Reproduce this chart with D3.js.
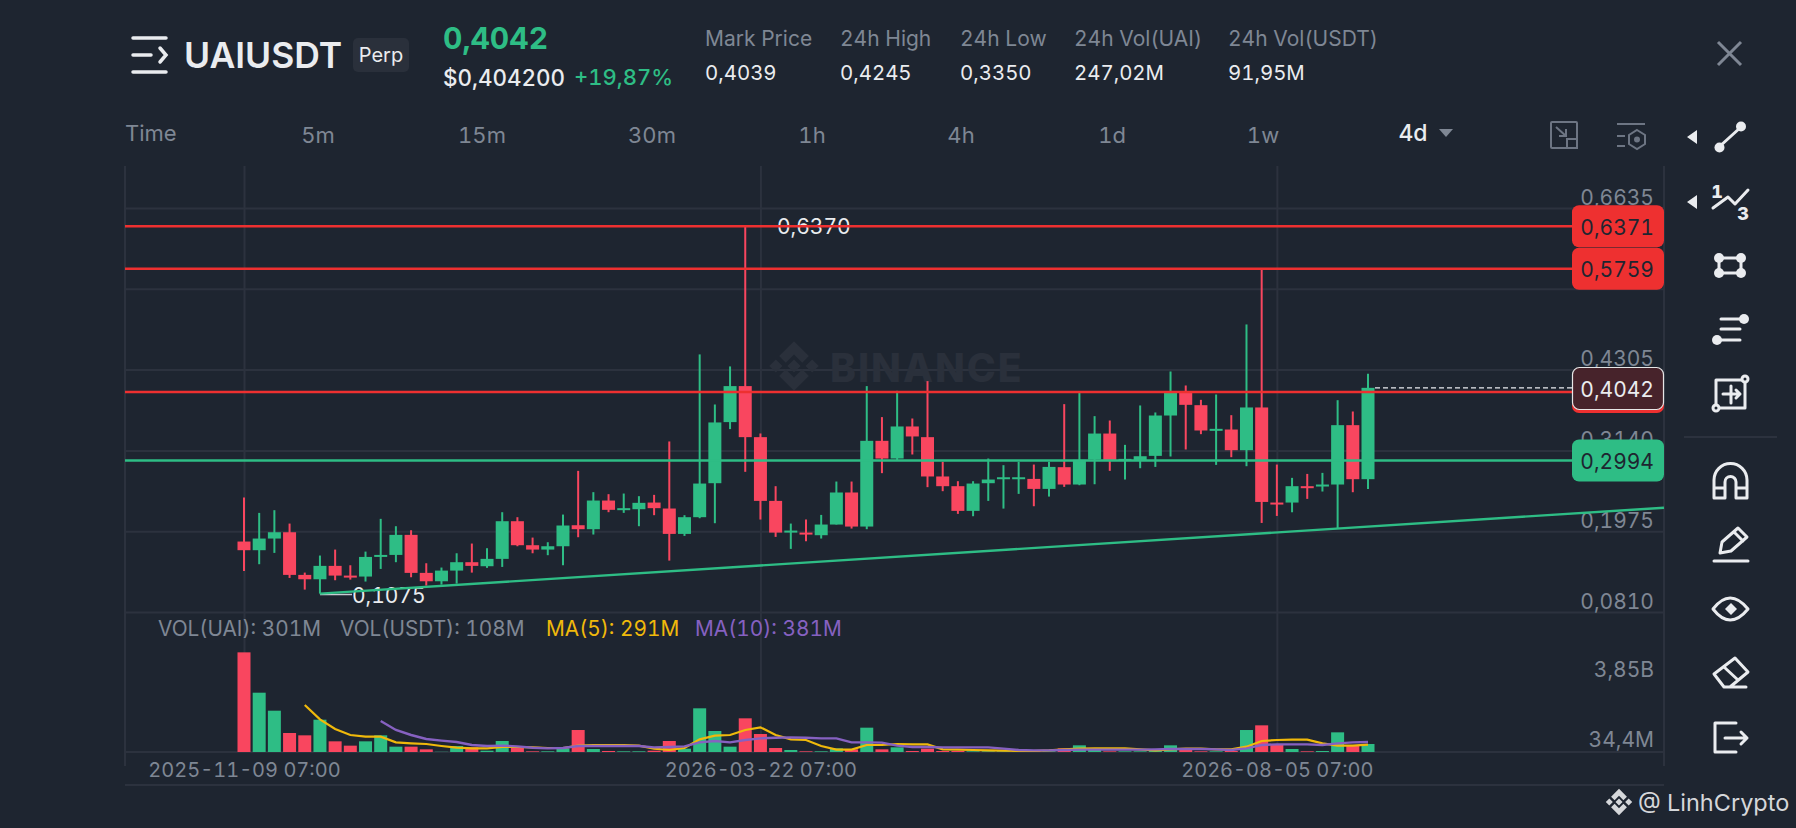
<!DOCTYPE html>
<html>
  <head>
    <meta charset="utf-8">
    <title>UAIUSDT Perp</title>
    <script src="https://d3js.org/d3.v7.min.js"></script>
    <style>
      html, body { margin: 0; padding: 0; background: #1e2530; overflow: hidden; }
      text { font-family: Inter, Roboto, "Noto Sans", sans-serif; font-variant-numeric: tabular-nums; }
      .axis path.domain { display: none; }
    </style>
  </head>

  <body>
    <script>

    // candles, one value per 4d bar
    var opens = [.1826,.1701,.1869,.1960,.1345,.1282,.1475,.1335,.1321,.1609,
                 .1633,.1922,.1374,.1253,.1407,.1528,.1470,.1576,.2119,.1773,
                 .1710,.1758,.2061,.2004,.2417,.2283,.2292,.2388,.2302,.1936,
                 .2177,.2667,.3548,.4067,.3331,.2412,.1955,.1955,.1917,.2071,
                 .2533,.2042,.3278,.3023,.3485,.3331,.2764,.2624,.2268,.2667,
                 .2725,.2729,.2729,.2585,.2898,.2648,.3008,.3383,.2989,.2989,
                 .3061,.3643,.3970,.3792,.3427,.3441,.3143,.3759,.2388,.2388,
                 .2624,.2619,.2648,.3504,.2725];
    var closes = [.1701,.1869,.1960,.1345,.1282,.1475,.1335,.1306,.1604,.1633,
                  .1922,.1374,.1253,.1407,.1528,.1475,.1576,.2119,.1773,.1710,
                  .1758,.2057,.2004,.2417,.2283,.2307,.2384,.2307,.1936,.2177,
                  .2662,.3543,.4067,.3331,.2412,.1955,.1984,.1927,.2071,.2533,
                  .2042,.3278,.3023,.3485,.3341,.2764,.2624,.2268,.2662,.2720,
                  .2753,.2753,.2585,.2902,.2648,.3004,.3383,.2999,.3018,.3056,
                  .3643,.3970,.3797,.3427,.3451,.3143,.3759,.2397,.2364,.2624,
                  .2595,.2648,.3504,.2725,.4042];
    var highs = [.2461,.2239,.2278,.2085,.1378,.1624,.1710,.1484,.1681,.2153,
                 .2047,.1989,.1513,.1451,.1657,.1797,.1730,.2249,.2177,.1883,
                 .1816,.2215,.2845,.2538,.2509,.2518,.2480,.2499,.3269,.2206,
                 .4524,.3802,.4351,.6370,.3384,.2624,.2085,.2143,.2210,.2691,
                 .2691,.4067,.3620,.3999,.3600,.4139,.2975,.2696,.2696,.3023,
                 .2927,.2975,.2936,.2975,.3807,.3970,.3634,.3571,.3220,.3788,
                 .3687,.4278,.4076,.3869,.3946,.3648,.4956,.5759,.2936,.2744,
                 .2801,.2816,.3864,.3701,.4245];
    var lows = [.1402,.1499,.1662,.1301,.1133,.1075,.1268,.1277,.1249,.1431,
                .1528,.1311,.1191,.1205,.1220,.1378,.1446,.1460,.1758,.1657,
                .1629,.1484,.1888,.1927,.2249,.2239,.2047,.2206,.1551,.1907,
                .2162,.2090,.3447,.2831,.2143,.1893,.1720,.1830,.1869,.2071,
                .2013,.2004,.2812,.2999,.3081,.2610,.2552,.2225,.2191,.2412,
                .2301,.2513,.2335,.2474,.2614,.2638,.2652,.2845,.2720,.2883,
                .2902,.3052,.3153,.3374,.2931,.3042,.2912,.2094,.2195,.2248,
                .2441,.2547,.2013,.2537,.2585];

    // volume in millions
    var volumes = [5466,3267,2286,1070,943,1795,616,380,616,943,
                   325,325,180,45,361,290,107,634,252,70,
                   70,234,1233,198,89,70,70,107,634,216,
                   2416,1179,325,1870,1015,252,143,70,70,234,
                   180,1360,180,290,89,216,89,89,70,70,
                   70,70,89,70,234,398,143,70,70,70,
                   89,398,180,70,70,89,1233,1488,416,198,
                   70,89,1106,416,470];
    var ma5 = [null,null,null,null,2596,1815,1288,961,870,870,
               561,507,470,361,270,234,234,307,307,289,
               252,252,380,416,416,416,380,216,143,252,
               724,925,961,1233,1380,961,725,688,361,162,
               162,416,416,470,452,452,180,162,143,125,
               107,89,89,125,180,216,234,234,234,180,
               125,180,216,216,180,180,325,634,688,706,
               706,507,380,380,434];
    var ma10 = [null,null,null,null,null,null,null,null,null,1724,
                1233,961,743,652,579,416,361,380,343,270,
                234,252,361,361,361,361,361,289,307,343,
                561,634,561,688,779,815,834,815,779,779,
                561,561,543,380,307,307,289,289,289,289,
                216,143,125,125,143,162,162,162,162,162,
                180,198,198,198,180,143,234,416,452,452,
                452,416,507,561,579];

    var priceTicks = [0.6635, 0.5470, 0.4305, 0.3140, 0.1975, 0.0810];
    var priceTickLabels = [0.6635, 0.4305, 0.3140, 0.1975, 0.0810];
    var volTicks = [3850, 34.4];
    var volTickLabels = ["3,85B", "34,4M"];
    var dateTicks = [0, 34, 68];
    var dateLabels = ["2025-11-09 07:00", "2026-03-22 07:00", "2026-08-05 07:00"];

    var redLevels = [0.6371, 0.5759, 0.3983];
    var greenLevels = [0.2994];
    var lastPrice = 0.4042;
    var trendIdx = [5, 72];
    var trendPrice = [0.1075, 0.2013];

    var stats = ["Mark Price", "24h High", "24h Low", "24h Vol(UAI)", "24h Vol(USDT)"];
    var statValues = ["0,4039", "0,4245", "0,3350", "247,02M", "91,95M"];
    var intervals = ["5m", "15m", "30m", "1h", "4h", "1d", "1w"];

    var bg = "#1e2530", grid = "#2c323e", green = "#2ebd85", red = "#f9465f",
        alarm = "#ee3030", gray = "#7f8794", white = "#eaecef";
    var width = 1796, height = 828;
    var left = 125, right = 1664;

    var x = d3.scaleLinear().domain([0, 74]).range([244, 1368]);
    var y = d3.scaleLinear().domain([0.0810, 0.6635]).range([612, 208]);
    var yVol = d3.scaleLinear().domain([34.4, 3850]).range([752, 682]);

    var svg = d3.select("body").append("svg")
                .attr("width", width).attr("height", height);

    function label(t, px, py, size, fill, anchor, weight) {
      return svg.append("text").attr("x", px).attr("y", py)
                .attr("font-size", size).attr("fill", fill)
                .attr("text-anchor", anchor || "start")
                .attr("font-weight", weight || 400)
                .attr("dominant-baseline", "central").text(t);
    }
    function comma(d) { return d.toFixed(4).replace(".", ","); }

    // frame and grid
    svg.append("g").attr("class", "axis")
       .attr("transform", "translate(" + left + ",0)")
       .call(d3.axisRight(y).tickValues(priceTicks).tickSize(right - left).tickFormat(""))
       .selectAll("line").attr("stroke", grid).attr("stroke-width", 2);
    svg.append("g").attr("class", "axis")
       .attr("transform", "translate(0,166)")
       .call(d3.axisBottom(x).tickValues(dateTicks).tickSize(752 - 166).tickFormat(""))
       .selectAll("line").attr("stroke", grid).attr("stroke-width", 2);
    [left, right].forEach(function(px) {
      svg.append("line").attr("x1", px).attr("x2", px).attr("y1", 166).attr("y2", 766)
         .attr("stroke", grid).attr("stroke-width", 2);
    });
    [752, 785].forEach(function(py) {
      svg.append("line").attr("x1", left).attr("x2", right).attr("y1", py).attr("y2", py)
         .attr("stroke", grid).attr("stroke-width", 2);
    });

    // watermark
    var wm = svg.append("g").attr("fill", "#2a303b");
    wm.append("path").attr("transform", "translate(794,366) scale(1.65)")
      .attr("d", "M0,-15 L9,-6 L5,-2 L0,-7 L-5,-2 L-9,-6 Z M0,15 L9,6 L5,2 L0,7 L-5,2 L-9,6 Z M-15,0 L-11,-4 L-7,0 L-11,4 Z M15,0 L11,-4 L7,0 L11,4 Z M0,-4 L4,0 L0,4 L-4,0 Z");
    wm.append("text").attr("x", 830).attr("y", 367).attr("font-size", 39).attr("font-weight", 800)
      .attr("dominant-baseline", "central").attr("letter-spacing", 2).text("BINANCE");

    // price axis labels
    var priceAxis = svg.append("g").attr("class", "axis")
       .attr("transform", "translate(1654,-10.5)")
       .call(d3.axisLeft(y).tickValues(priceTickLabels).tickSize(0).tickPadding(0).tickFormat(comma));
    priceAxis.selectAll("text").attr("font-size", 21).attr("fill", gray);

    var volAxis = svg.append("g").attr("class", "axis")
       .attr("transform", "translate(1654,-12)")
       .call(d3.axisLeft(yVol).tickValues(volTicks).tickSize(0).tickPadding(0)
               .tickFormat(function(d, i) { return volTickLabels[i]; }));
    volAxis.selectAll("text").attr("font-size", 21).attr("fill", gray);

    var dateAxis = svg.append("g").attr("class", "axis")
       .attr("transform", "translate(0,770)")
       .call(d3.axisBottom(x).tickValues(dateTicks).tickSize(0).tickPadding(0)
               .tickFormat(function(d, i) { return dateLabels[i]; }));
    dateAxis.selectAll("text").attr("font-size", 20).attr("fill", gray)
            .attr("dy", 0).attr("dominant-baseline", "central");

    // volume bars
    var idx = d3.range(volumes.length);
    function col(i) { return closes[i] >= opens[i] ? green : red; }
    svg.append("g").selectAll("rect").data(idx).enter().append("rect")
       .attr("x", function(i) { return x(i) - 6.5; })
       .attr("width", 13)
       .attr("y", function(i) { return yVol(volumes[i]); })
       .attr("height", function(i) { return Math.max(0, 752 - yVol(volumes[i])); })
       .attr("fill", col);

    // MA lines
    var maLine = d3.line().defined(function(d) { return d !== null; })
                   .x(function(d, i) { return x(i); })
                   .y(function(d) { return yVol(d); });
    svg.append("path").datum(ma5).attr("d", maLine).attr("fill", "none")
       .attr("stroke", "#f0b90b").attr("stroke-width", 2.2);
    svg.append("path").datum(ma10).attr("d", maLine).attr("fill", "none")
       .attr("stroke", "#8661c1").attr("stroke-width", 2.4);

    // candles
    var candles = svg.append("g");
    candles.selectAll("line").data(idx).enter().append("line")
       .attr("x1", function(i) { return x(i); })
       .attr("x2", function(i) { return x(i); })
       .attr("y1", function(i) { return y(highs[i]); })
       .attr("y2", function(i) { return y(lows[i]); })
       .attr("stroke", col).attr("stroke-width", 2);
    candles.selectAll("rect").data(idx).enter().append("rect")
       .attr("x", function(i) { return x(i) - 6.5; })
       .attr("width", 13)
       .attr("y", function(i) { return y(Math.max(opens[i], closes[i])); })
       .attr("height", function(i) { return Math.max(2, Math.abs(y(opens[i]) - y(closes[i]))); })
       .attr("fill", col);

    // high / low notes
    label("0,6370", 777, y(0.6370), 21, white);
    svg.append("line").attr("x1", x(5)).attr("x2", 352).attr("y1", y(0.1075) + 1).attr("y2", y(0.1075) + 1)
       .attr("stroke", "#c9ccd2").attr("stroke-width", 1.5);
    label("0,1075", 352, 595, 21, white);

    // drawn levels
    var lineEnd = 1572;
    redLevels.forEach(function(v) {
      svg.append("line").attr("x1", left).attr("x2", lineEnd).attr("y1", y(v)).attr("y2", y(v))
         .attr("stroke", alarm).attr("stroke-width", 2.4);
    });
    greenLevels.forEach(function(v) {
      svg.append("line").attr("x1", left).attr("x2", lineEnd).attr("y1", y(v)).attr("y2", y(v))
         .attr("stroke", green).attr("stroke-width", 2.4);
    });
    // trend line, carried on to the right edge of the chart
    var slope = (trendPrice[1] - trendPrice[0]) / (trendIdx[1] - trendIdx[0]);
    var endIdx = x.invert(right);
    svg.append("path")
       .datum([[trendIdx[0], trendPrice[0]], [endIdx, trendPrice[0] + slope * (endIdx - trendIdx[0])]])
       .attr("d", d3.line().x(function(d) { return x(d[0]); }).y(function(d) { return y(d[1]); }))
       .attr("stroke", green).attr("stroke-width", 2.4).attr("fill", "none");

    svg.append("line").attr("x1", x(74) + 7).attr("x2", lineEnd)
       .attr("y1", y(lastPrice)).attr("y2", y(lastPrice))
       .attr("stroke", white).attr("stroke-width", 1.3).attr("stroke-dasharray", "5,3");

    function tag(v, fill, textFill) {
      svg.append("rect").attr("x", lineEnd).attr("y", y(v) - 21).attr("width", right - lineEnd)
         .attr("height", 42).attr("rx", 7).attr("fill", fill);
      label(comma(v), 1654, y(v) + 1, 21, textFill, "end");
    }
    tag(redLevels[0], alarm, "#1e2530");
    tag(redLevels[1], alarm, "#1e2530");
    tag(greenLevels[0], green, "#1e2530");
    svg.append("rect").attr("x", lineEnd).attr("y", y(redLevels[2]) - 21).attr("width", right - lineEnd)
       .attr("height", 42).attr("rx", 7).attr("fill", alarm);
    svg.append("rect").attr("x", lineEnd + .5).attr("y", 367.5).attr("width", right - lineEnd - 1)
       .attr("height", 42).attr("rx", 7).attr("fill", "#47232b").attr("stroke", "#e6e6e6").attr("stroke-width", 1.2);
    label(comma(lastPrice), 1654, 389, 21, white, "end");

    // volume legend
    label("VOL(UAI): 301M", 158, 628, 20.8, gray);
    label("VOL(USDT): 108M", 340, 628, 20.8, gray);
    label("MA(5): 291M", 546, 628, 20.8, "#f0b90b");
    label("MA(10): 381M", 695, 628, 20.8, "#8661c1");

    // header
    var menu = svg.append("g").attr("stroke", white).attr("stroke-width", 3.5)
                  .attr("stroke-linecap", "round").attr("fill", "none");
    menu.append("path").attr("d", "M133,38 H166 M133,72 H166 M133,55 H151 M160,48 L166,55 L160,62");
    label("UAIUSDT", 184, 55, 35.5, white, "start", 600);
    svg.append("rect").attr("x", 353).attr("y", 38).attr("width", 56).attr("height", 34).attr("rx", 5).attr("fill", "#2a303b");
    label("Perp", 381, 55, 20, white, "middle");
    label("0,4042", 443, 38, 30, green, "start", 700);
    label("$0,404200", 443, 77, 22.4, white, "start", 500);
    label("+19,87%", 574, 77, 22, green, "start", 500);

    var statX = [705, 840, 960, 1074, 1228];
    stats.forEach(function(s, i) {
      label(s, statX[i], 38, 21, gray);
      label(statValues[i], statX[i], 72, 20.4, white);
    });
    svg.append("path").attr("d", "M1718,42 L1741,65 M1741,42 L1718,65")
       .attr("stroke", "#7f8794").attr("stroke-width", 3).attr("fill", "none");

    // interval row
    label("Time", 125, 133, 22, gray);
    var intervalX = [318, 482, 652, 812, 961, 1112, 1263];
    intervals.forEach(function(s, i) { label(s, intervalX[i], 135, 22, gray, "middle"); });
    label("4d", 1413, 133, 23, white, "middle", 500);
    svg.append("path").attr("d", "M1439,129 H1453 L1446,137 Z").attr("fill", "#7f8794");

    var topIcons = svg.append("g").attr("stroke", "#6d7583").attr("stroke-width", 2).attr("fill", "none");
    topIcons.append("rect").attr("x", 1551).attr("y", 122).attr("width", 26).attr("height", 26).attr("rx", 1);
    topIcons.append("rect").attr("x", 1567).attr("y", 139).attr("width", 10).attr("height", 9).attr("fill", bg);
    topIcons.append("path").attr("d", "M1556,127 L1566,136 M1566,129 V136 H1559");
    topIcons.append("path").attr("d", "M1617,124 H1645 M1617,136 H1625 M1617,146 H1625 M1637,130 L1645,135 V144 L1637,149 L1629,144 V135 Z");
    topIcons.append("circle").attr("cx", 1637).attr("cy", 139.5).attr("r", 2).attr("fill", "#6d7583");

    // right tool column
    var tools = svg.append("g").attr("stroke", white).attr("stroke-width", 3)
                   .attr("fill", "none").attr("stroke-linecap", "round").attr("stroke-linejoin", "round");
    var dots = function(list, r) {
      list.forEach(function(p) {
        tools.append("circle").attr("cx", p[0]).attr("cy", p[1]).attr("r", r)
             .attr("fill", white).attr("stroke", "none");
      });
    };
    svg.append("path").attr("d", "M1697,130 V144 L1687,137 Z M1697,195 V209 L1687,202 Z").attr("fill", white);
    tools.append("path").attr("d", "M1719,147 L1741,127");
    dots([[1719.5, 147.5], [1741, 126.5]], 5);
    tools.append("path").attr("d", "M1713,208 L1728,197 L1735,204 L1748,190");
    label("1", 1717, 191, 18, white, "middle", 800);
    label("3", 1743, 213, 18, white, "middle", 800);
    tools.append("rect").attr("x", 1719).attr("y", 258).attr("width", 22).attr("height", 15);
    dots([[1719, 258], [1741, 258], [1719, 273], [1741, 273]], 5);
    tools.append("path").attr("d", "M1721,319 H1740 M1721,329 H1740 M1720,340 H1740");
    dots([[1744, 319], [1717, 340]], 5);
    tools.append("path").attr("d", "M1745,380 H1716 V408 H1745 Z M1731,386 V403 M1723,394 H1740 M1736,390 L1740,394 L1736,398");
    tools.append("circle").attr("cx", 1745).attr("cy", 379).attr("r", 3).attr("fill", bg);
    tools.append("circle").attr("cx", 1716).attr("cy", 408).attr("r", 3).attr("fill", bg);
    svg.append("line").attr("x1", 1684).attr("x2", 1777).attr("y1", 437).attr("y2", 437)
       .attr("stroke", grid).attr("stroke-width", 2);
    tools.append("path").attr("d", "M1714,498 H1725 V482 A5.5,5.5 0 0 1 1736,482 V498 H1747 V480 A16.5,16.5 0 0 0 1714,480 Z M1714,488 H1725 M1736,488 H1747");
    tools.append("path").attr("d", "M1714,561 H1748 M1720,553 L1722,542 L1738,528 L1747,537 L1731,551 Z M1734,532 L1743,541");
    tools.append("path").attr("d", "M1713,609 Q1730,587 1748,609 Q1730,631 1713,609 Z");
    tools.append("path").attr("d", "M1731,603 L1737,609 L1731,615 L1725,609 Z").attr("fill", white).attr("stroke", "none");
    tools.append("path").attr("d", "M1714,674 L1735,658 L1748,672 L1730,687 H1724 Z M1724,667 L1738,680 M1724,687 H1746");
    tools.append("path").attr("d", "M1736,723 H1715 V752 H1736 M1725,738 H1747 M1741,732 L1747,738 L1741,744");

    // footer mark
    svg.append("path").attr("transform", "translate(1619,802) scale(.88)").attr("fill", "#d5d7da")
       .attr("d", "M0,-15 L9,-6 L5,-2 L0,-7 L-5,-2 L-9,-6 Z M0,15 L9,6 L5,2 L0,7 L-5,2 L-9,6 Z M-15,0 L-11,-4 L-7,0 L-11,4 Z M15,0 L11,-4 L7,0 L11,4 Z M0,-4 L4,0 L0,4 L-4,0 Z");
    label("@ LinhCrypto", 1638, 802, 23.5, "#d5d7da");

    </script>
  </body>
</html>
